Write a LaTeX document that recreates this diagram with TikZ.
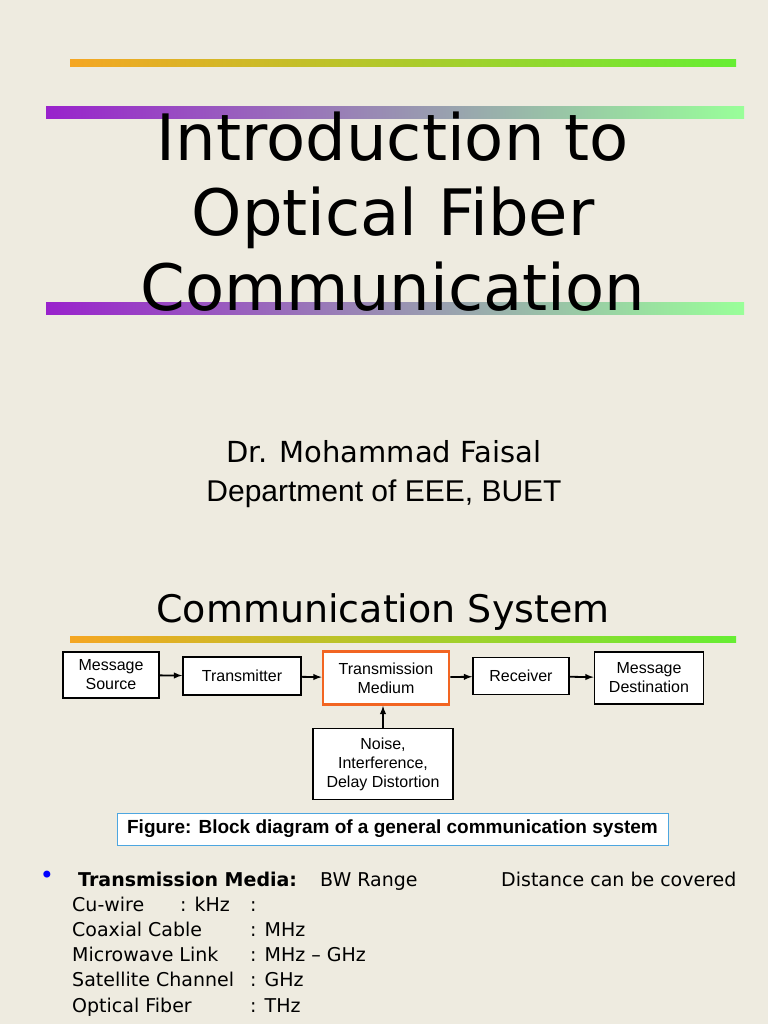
\documentclass[tikz,border=0pt]{standalone}
\usepackage{fontspec}
\setmainfont{DejaVu Sans}
\newfontfamily\arialf{Liberation Sans}
\begin{document}
\begin{tikzpicture}[x=1pt,y=-1pt,
  blk/.style={draw=black,line width=1.8pt,fill=white,font=\arialf\fontsize{16}{19}\selectfont,align=center,inner sep=0pt},
  arr/.style={-latex,line width=1.8pt},
  lbl/.style={anchor=base west,inner sep=0pt,font=\fontsize{19}{20}\selectfont}]
\definecolor{bg}{HTML}{EEEBE0}
\definecolor{orA}{HTML}{F5A623}
\definecolor{grA}{HTML}{66EE33}
\definecolor{puA}{HTML}{9922CC}
\definecolor{grB}{HTML}{99FF99}
\definecolor{orB}{HTML}{F26522}
\definecolor{blB}{HTML}{4DA6E0}
\fill[bg] (0,0) rectangle (768,1024);
\shade[left color=orA,right color=grA] (70,60) rectangle (736,67);
\shade[left color=puA,right color=grB] (46,107) rectangle (744,119);
\shade[left color=puA,right color=grB] (46,302) rectangle (744,314);
\node[font=\fontsize{64}{75}\selectfont,align=center] (title) at (393,212) {Introduction to\\Optical Fiber\\Communication};
\node[font=\fontsize{29}{30}\selectfont] (auth) at (384,452) {Dr. Mohammad Faisal};
\node[font=\arialf\fontsize{30}{30}\selectfont] (dept) at (384,494) {Department of EEE, BUET};
\node[font=\fontsize{38}{40}\selectfont] (cs) at (383,612) {Communication System};
\shade[left color=orA,right color=grA] (70,636) rectangle (736,642);
\node[blk,minimum width=96,minimum height=46] (src) at (111,675) {Message\\Source};
\node[blk,minimum width=118,minimum height=38] (tx) at (242,676) {Transmitter};
\node[blk,draw=orB,line width=2.8pt,minimum width=126,minimum height=53] (med) at (386,678) {Transmission\\Medium};
\node[blk,minimum width=96,minimum height=37] (rx) at (521,676) {Receiver};
\node[blk,minimum width=109,minimum height=52] (dst) at (649,678) {Message\\Destination};
\node[blk,minimum width=140,minimum height=71] (noise) at (383,764) {Noise,\\Interference,\\Delay Distortion};
\draw[arr] (src) -- (tx);
\draw[arr] (tx) -- (med);
\draw[arr] (med) -- (rx);
\draw[arr] (rx) -- (dst);
\draw[arr] (noise.north) -- (med.south -| noise.north);
\node[draw=blB,line width=1pt,fill=white,minimum width=551,minimum height=32,inner sep=0pt,font=\arialf\bfseries\fontsize{19}{20}\selectfont] (cap) at (392.5,829) {Figure: Block diagram of a general communication system};
\node[text=blue,font=\fontsize{24}{24}\selectfont,inner sep=0pt] (bul) at (47,877) {•};
\node[lbl,font=\bfseries\fontsize{19}{20}\selectfont] (tm) at (78,886) {Transmission Media:};
\node[lbl] (bw) at (320,886) {BW Range};
\node[lbl] (dist) at (501,886) {Distance can be covered};
\node[lbl] (r1) at (72,911) {Cu-wire};
\node[lbl] (r1b) at (180,911) {: kHz};
\node[lbl] (r1c) at (250,911) {:};
\node[lbl] (r2) at (72,936) {Coaxial Cable};
\node[lbl] (r2b) at (250,936) {: MHz};
\node[lbl] (r3) at (72,961) {Microwave Link};
\node[lbl] (r3b) at (250,961) {: MHz – GHz};
\node[lbl] (r4) at (72,986) {Satellite Channel};
\node[lbl] (r4b) at (250,986) {: GHz};
\node[lbl] (r5) at (72,1012) {Optical Fiber};
\node[lbl] (r5b) at (250,1012) {: THz};
\end{tikzpicture}
\end{document}
